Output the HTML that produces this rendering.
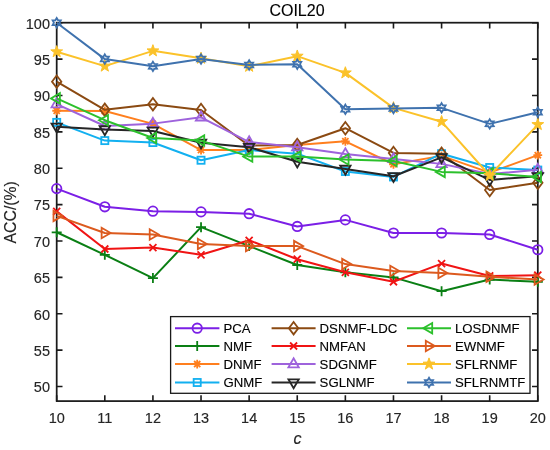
<!DOCTYPE html>
<html><head><meta charset="utf-8"><style>
html,body{margin:0;padding:0;background:#fff;width:550px;height:450px;overflow:hidden}
svg{display:block;will-change:transform}
</style></head><body>
<svg width="550" height="450" viewBox="0 0 550 450">
<rect width="550" height="450" fill="#ffffff"/>
<rect x="56.70" y="22.70" width="481.10" height="378.40" fill="none" stroke="#1a1a1a" stroke-width="1.75"/>
<path d="M56.70 401.10V395.30M56.70 22.70V28.50M104.81 401.10V395.30M104.81 22.70V28.50M152.92 401.10V395.30M152.92 22.70V28.50M201.03 401.10V395.30M201.03 22.70V28.50M249.14 401.10V395.30M249.14 22.70V28.50M297.25 401.10V395.30M297.25 22.70V28.50M345.36 401.10V395.30M345.36 22.70V28.50M393.47 401.10V395.30M393.47 22.70V28.50M441.58 401.10V395.30M441.58 22.70V28.50M489.69 401.10V395.30M489.69 22.70V28.50M537.80 401.10V395.30M537.80 22.70V28.50M56.70 386.55H62.50M537.80 386.55H532.00M56.70 350.16H62.50M537.80 350.16H532.00M56.70 313.78H62.50M537.80 313.78H532.00M56.70 277.39H62.50M537.80 277.39H532.00M56.70 241.01H62.50M537.80 241.01H532.00M56.70 204.62H62.50M537.80 204.62H532.00M56.70 168.24H62.50M537.80 168.24H532.00M56.70 131.85H62.50M537.80 131.85H532.00M56.70 95.47H62.50M537.80 95.47H532.00M56.70 59.08H62.50M537.80 59.08H532.00M56.70 22.70H62.50M537.80 22.70H532.00" stroke="#1a1a1a" stroke-width="1.6" fill="none"/>
<g clip-path="url(#clip)">
<polyline points="56.70,188.61 104.81,206.81 152.92,211.17 201.03,211.90 249.14,213.72 297.25,226.45 345.36,219.90 393.47,233.00 441.58,233.00 489.69,234.46 537.80,249.74" fill="none" stroke="#7b1fe6" stroke-width="2.0" stroke-linejoin="round"/>
<circle cx="56.70" cy="188.61" r="4.7" fill="none" stroke="#7b1fe6" stroke-width="1.8"/>
<circle cx="104.81" cy="206.81" r="4.7" fill="none" stroke="#7b1fe6" stroke-width="1.8"/>
<circle cx="152.92" cy="211.17" r="4.7" fill="none" stroke="#7b1fe6" stroke-width="1.8"/>
<circle cx="201.03" cy="211.90" r="4.7" fill="none" stroke="#7b1fe6" stroke-width="1.8"/>
<circle cx="249.14" cy="213.72" r="4.7" fill="none" stroke="#7b1fe6" stroke-width="1.8"/>
<circle cx="297.25" cy="226.45" r="4.7" fill="none" stroke="#7b1fe6" stroke-width="1.8"/>
<circle cx="345.36" cy="219.90" r="4.7" fill="none" stroke="#7b1fe6" stroke-width="1.8"/>
<circle cx="393.47" cy="233.00" r="4.7" fill="none" stroke="#7b1fe6" stroke-width="1.8"/>
<circle cx="441.58" cy="233.00" r="4.7" fill="none" stroke="#7b1fe6" stroke-width="1.8"/>
<circle cx="489.69" cy="234.46" r="4.7" fill="none" stroke="#7b1fe6" stroke-width="1.8"/>
<circle cx="537.80" cy="249.74" r="4.7" fill="none" stroke="#7b1fe6" stroke-width="1.8"/>
<polyline points="56.70,232.28 104.81,254.83 152.92,278.12 201.03,227.18 249.14,246.10 297.25,265.02 345.36,272.30 393.47,277.39 441.58,291.22 489.69,279.58 537.80,281.76" fill="none" stroke="#0a7f14" stroke-width="2.0" stroke-linejoin="round"/>
<path d="M51.70 232.28H61.70M56.70 227.28V237.28" stroke="#0a7f14" stroke-width="1.8" fill="none"/>
<path d="M99.81 254.83H109.81M104.81 249.83V259.83" stroke="#0a7f14" stroke-width="1.8" fill="none"/>
<path d="M147.92 278.12H157.92M152.92 273.12V283.12" stroke="#0a7f14" stroke-width="1.8" fill="none"/>
<path d="M196.03 227.18H206.03M201.03 222.18V232.18" stroke="#0a7f14" stroke-width="1.8" fill="none"/>
<path d="M244.14 246.10H254.14M249.14 241.10V251.10" stroke="#0a7f14" stroke-width="1.8" fill="none"/>
<path d="M292.25 265.02H302.25M297.25 260.02V270.02" stroke="#0a7f14" stroke-width="1.8" fill="none"/>
<path d="M340.36 272.30H350.36M345.36 267.30V277.30" stroke="#0a7f14" stroke-width="1.8" fill="none"/>
<path d="M388.47 277.39H398.47M393.47 272.39V282.39" stroke="#0a7f14" stroke-width="1.8" fill="none"/>
<path d="M436.58 291.22H446.58M441.58 286.22V296.22" stroke="#0a7f14" stroke-width="1.8" fill="none"/>
<path d="M484.69 279.58H494.69M489.69 274.58V284.58" stroke="#0a7f14" stroke-width="1.8" fill="none"/>
<path d="M532.80 281.76H542.80M537.80 276.76V286.76" stroke="#0a7f14" stroke-width="1.8" fill="none"/>
<polyline points="56.70,110.75 104.81,110.97 152.92,123.85 201.03,150.05 249.14,150.05 297.25,144.95 345.36,141.31 393.47,164.24 441.58,155.87 489.69,172.60 537.80,155.14" fill="none" stroke="#ff7f1e" stroke-width="2.0" stroke-linejoin="round"/>
<path d="M52.30 110.75H61.10M56.70 106.35V115.15M53.59 107.64L59.81 113.86M53.59 113.86L59.81 107.64" stroke="#ff7f1e" stroke-width="1.8" fill="none"/>
<path d="M100.41 110.97H109.21M104.81 106.57V115.37M101.70 107.86L107.92 114.08M101.70 114.08L107.92 107.86" stroke="#ff7f1e" stroke-width="1.8" fill="none"/>
<path d="M148.52 123.85H157.32M152.92 119.45V128.25M149.81 120.74L156.03 126.96M149.81 126.96L156.03 120.74" stroke="#ff7f1e" stroke-width="1.8" fill="none"/>
<path d="M196.63 150.05H205.43M201.03 145.65V154.45M197.92 146.94L204.14 153.16M197.92 153.16L204.14 146.94" stroke="#ff7f1e" stroke-width="1.8" fill="none"/>
<path d="M244.74 150.05H253.54M249.14 145.65V154.45M246.03 146.94L252.25 153.16M246.03 153.16L252.25 146.94" stroke="#ff7f1e" stroke-width="1.8" fill="none"/>
<path d="M292.85 144.95H301.65M297.25 140.55V149.35M294.14 141.84L300.36 148.06M294.14 148.06L300.36 141.84" stroke="#ff7f1e" stroke-width="1.8" fill="none"/>
<path d="M340.96 141.31H349.76M345.36 136.91V145.71M342.25 138.20L348.47 144.42M342.25 144.42L348.47 138.20" stroke="#ff7f1e" stroke-width="1.8" fill="none"/>
<path d="M389.07 164.24H397.87M393.47 159.84V168.64M390.36 161.13L396.58 167.35M390.36 167.35L396.58 161.13" stroke="#ff7f1e" stroke-width="1.8" fill="none"/>
<path d="M437.18 155.87H445.98M441.58 151.47V160.27M438.47 152.76L444.69 158.98M438.47 158.98L444.69 152.76" stroke="#ff7f1e" stroke-width="1.8" fill="none"/>
<path d="M485.29 172.60H494.09M489.69 168.20V177.00M486.58 169.49L492.80 175.72M486.58 175.72L492.80 169.49" stroke="#ff7f1e" stroke-width="1.8" fill="none"/>
<path d="M533.40 155.14H542.20M537.80 150.74V159.54M534.69 152.03L540.91 158.25M534.69 158.25L540.91 152.03" stroke="#ff7f1e" stroke-width="1.8" fill="none"/>
<polyline points="56.70,122.39 104.81,140.59 152.92,142.55 201.03,160.23 249.14,150.05 297.25,153.68 345.36,171.51 393.47,176.97 441.58,153.68 489.69,167.51 537.80,170.06" fill="none" stroke="#12b0f0" stroke-width="2.0" stroke-linejoin="round"/>
<rect x="53.15" y="118.84" width="7.1" height="7.1" fill="none" stroke="#12b0f0" stroke-width="1.8"/>
<rect x="101.26" y="137.04" width="7.1" height="7.1" fill="none" stroke="#12b0f0" stroke-width="1.8"/>
<rect x="149.37" y="139.00" width="7.1" height="7.1" fill="none" stroke="#12b0f0" stroke-width="1.8"/>
<rect x="197.48" y="156.68" width="7.1" height="7.1" fill="none" stroke="#12b0f0" stroke-width="1.8"/>
<rect x="245.59" y="146.50" width="7.1" height="7.1" fill="none" stroke="#12b0f0" stroke-width="1.8"/>
<rect x="293.70" y="150.13" width="7.1" height="7.1" fill="none" stroke="#12b0f0" stroke-width="1.8"/>
<rect x="341.81" y="167.96" width="7.1" height="7.1" fill="none" stroke="#12b0f0" stroke-width="1.8"/>
<rect x="389.92" y="173.42" width="7.1" height="7.1" fill="none" stroke="#12b0f0" stroke-width="1.8"/>
<rect x="438.03" y="150.13" width="7.1" height="7.1" fill="none" stroke="#12b0f0" stroke-width="1.8"/>
<rect x="486.14" y="163.96" width="7.1" height="7.1" fill="none" stroke="#12b0f0" stroke-width="1.8"/>
<rect x="534.25" y="166.51" width="7.1" height="7.1" fill="none" stroke="#12b0f0" stroke-width="1.8"/>
<polyline points="56.70,81.64 104.81,109.80 152.92,104.20 201.03,110.02 249.14,145.68 297.25,144.95 345.36,128.22 393.47,152.96 441.58,153.68 489.69,190.07 537.80,182.79" fill="none" stroke="#8b4a12" stroke-width="2.0" stroke-linejoin="round"/>
<polygon points="56.70,75.44 61.40,81.64 56.70,87.84 52.00,81.64" fill="none" stroke="#8b4a12" stroke-width="1.8" stroke-linejoin="miter"/>
<polygon points="104.81,103.60 109.51,109.80 104.81,116.00 100.11,109.80" fill="none" stroke="#8b4a12" stroke-width="1.8" stroke-linejoin="miter"/>
<polygon points="152.92,98.00 157.62,104.20 152.92,110.40 148.22,104.20" fill="none" stroke="#8b4a12" stroke-width="1.8" stroke-linejoin="miter"/>
<polygon points="201.03,103.82 205.73,110.02 201.03,116.22 196.33,110.02" fill="none" stroke="#8b4a12" stroke-width="1.8" stroke-linejoin="miter"/>
<polygon points="249.14,139.48 253.84,145.68 249.14,151.88 244.44,145.68" fill="none" stroke="#8b4a12" stroke-width="1.8" stroke-linejoin="miter"/>
<polygon points="297.25,138.75 301.95,144.95 297.25,151.15 292.55,144.95" fill="none" stroke="#8b4a12" stroke-width="1.8" stroke-linejoin="miter"/>
<polygon points="345.36,122.02 350.06,128.22 345.36,134.42 340.66,128.22" fill="none" stroke="#8b4a12" stroke-width="1.8" stroke-linejoin="miter"/>
<polygon points="393.47,146.76 398.17,152.96 393.47,159.16 388.77,152.96" fill="none" stroke="#8b4a12" stroke-width="1.8" stroke-linejoin="miter"/>
<polygon points="441.58,147.48 446.28,153.68 441.58,159.88 436.88,153.68" fill="none" stroke="#8b4a12" stroke-width="1.8" stroke-linejoin="miter"/>
<polygon points="489.69,183.87 494.39,190.07 489.69,196.27 484.99,190.07" fill="none" stroke="#8b4a12" stroke-width="1.8" stroke-linejoin="miter"/>
<polygon points="537.80,176.59 542.50,182.79 537.80,188.99 533.10,182.79" fill="none" stroke="#8b4a12" stroke-width="1.8" stroke-linejoin="miter"/>
<polyline points="56.70,211.39 104.81,249.01 152.92,247.56 201.03,254.83 249.14,240.28 297.25,259.20 345.36,272.30 393.47,281.76 441.58,263.57 489.69,275.94 537.80,275.21" fill="none" stroke="#f01414" stroke-width="2.0" stroke-linejoin="round"/>
<path d="M53.20 207.89L60.20 214.89M53.20 214.89L60.20 207.89" stroke="#f01414" stroke-width="1.8" fill="none"/>
<path d="M101.31 245.51L108.31 252.51M101.31 252.51L108.31 245.51" stroke="#f01414" stroke-width="1.8" fill="none"/>
<path d="M149.42 244.06L156.42 251.06M149.42 251.06L156.42 244.06" stroke="#f01414" stroke-width="1.8" fill="none"/>
<path d="M197.53 251.33L204.53 258.33M197.53 258.33L204.53 251.33" stroke="#f01414" stroke-width="1.8" fill="none"/>
<path d="M245.64 236.78L252.64 243.78M245.64 243.78L252.64 236.78" stroke="#f01414" stroke-width="1.8" fill="none"/>
<path d="M293.75 255.70L300.75 262.70M293.75 262.70L300.75 255.70" stroke="#f01414" stroke-width="1.8" fill="none"/>
<path d="M341.86 268.80L348.86 275.80M341.86 275.80L348.86 268.80" stroke="#f01414" stroke-width="1.8" fill="none"/>
<path d="M389.97 278.26L396.97 285.26M389.97 285.26L396.97 278.26" stroke="#f01414" stroke-width="1.8" fill="none"/>
<path d="M438.08 260.07L445.08 267.07M438.08 267.07L445.08 260.07" stroke="#f01414" stroke-width="1.8" fill="none"/>
<path d="M486.19 272.44L493.19 279.44M486.19 279.44L493.19 272.44" stroke="#f01414" stroke-width="1.8" fill="none"/>
<path d="M534.30 271.71L541.30 278.71M534.30 278.71L541.30 271.71" stroke="#f01414" stroke-width="1.8" fill="none"/>
<polyline points="56.70,104.20 104.81,126.03 152.92,123.63 201.03,117.30 249.14,142.04 297.25,147.14 345.36,154.05 393.47,159.00 441.58,163.87 489.69,174.06 537.80,169.69" fill="none" stroke="#9e63dc" stroke-width="2.0" stroke-linejoin="round"/>
<polygon points="56.70,98.40 61.90,107.40 51.50,107.40" fill="none" stroke="#9e63dc" stroke-width="1.8" stroke-linejoin="miter"/>
<polygon points="104.81,120.23 110.01,129.23 99.61,129.23" fill="none" stroke="#9e63dc" stroke-width="1.8" stroke-linejoin="miter"/>
<polygon points="152.92,117.83 158.12,126.83 147.72,126.83" fill="none" stroke="#9e63dc" stroke-width="1.8" stroke-linejoin="miter"/>
<polygon points="201.03,111.50 206.23,120.50 195.83,120.50" fill="none" stroke="#9e63dc" stroke-width="1.8" stroke-linejoin="miter"/>
<polygon points="249.14,136.24 254.34,145.24 243.94,145.24" fill="none" stroke="#9e63dc" stroke-width="1.8" stroke-linejoin="miter"/>
<polygon points="297.25,141.34 302.45,150.34 292.05,150.34" fill="none" stroke="#9e63dc" stroke-width="1.8" stroke-linejoin="miter"/>
<polygon points="345.36,148.25 350.56,157.25 340.16,157.25" fill="none" stroke="#9e63dc" stroke-width="1.8" stroke-linejoin="miter"/>
<polygon points="393.47,153.20 398.67,162.20 388.27,162.20" fill="none" stroke="#9e63dc" stroke-width="1.8" stroke-linejoin="miter"/>
<polygon points="441.58,158.07 446.78,167.07 436.38,167.07" fill="none" stroke="#9e63dc" stroke-width="1.8" stroke-linejoin="miter"/>
<polygon points="489.69,168.26 494.89,177.26 484.49,177.26" fill="none" stroke="#9e63dc" stroke-width="1.8" stroke-linejoin="miter"/>
<polygon points="537.80,163.89 543.00,172.89 532.60,172.89" fill="none" stroke="#9e63dc" stroke-width="1.8" stroke-linejoin="miter"/>
<polyline points="56.70,126.76 104.81,129.45 152.92,130.91 201.03,142.77 249.14,147.14 297.25,161.69 345.36,168.97 393.47,176.24 441.58,157.32 489.69,179.88 537.80,176.24" fill="none" stroke="#262626" stroke-width="2.0" stroke-linejoin="round"/>
<polygon points="56.70,132.56 61.90,123.56 51.50,123.56" fill="none" stroke="#262626" stroke-width="1.8" stroke-linejoin="miter"/>
<polygon points="104.81,135.25 110.01,126.25 99.61,126.25" fill="none" stroke="#262626" stroke-width="1.8" stroke-linejoin="miter"/>
<polygon points="152.92,136.71 158.12,127.71 147.72,127.71" fill="none" stroke="#262626" stroke-width="1.8" stroke-linejoin="miter"/>
<polygon points="201.03,148.57 206.23,139.57 195.83,139.57" fill="none" stroke="#262626" stroke-width="1.8" stroke-linejoin="miter"/>
<polygon points="249.14,152.94 254.34,143.94 243.94,143.94" fill="none" stroke="#262626" stroke-width="1.8" stroke-linejoin="miter"/>
<polygon points="297.25,167.49 302.45,158.49 292.05,158.49" fill="none" stroke="#262626" stroke-width="1.8" stroke-linejoin="miter"/>
<polygon points="345.36,174.77 350.56,165.77 340.16,165.77" fill="none" stroke="#262626" stroke-width="1.8" stroke-linejoin="miter"/>
<polygon points="393.47,182.04 398.67,173.04 388.27,173.04" fill="none" stroke="#262626" stroke-width="1.8" stroke-linejoin="miter"/>
<polygon points="441.58,163.12 446.78,154.12 436.38,154.12" fill="none" stroke="#262626" stroke-width="1.8" stroke-linejoin="miter"/>
<polygon points="489.69,185.68 494.89,176.68 484.49,176.68" fill="none" stroke="#262626" stroke-width="1.8" stroke-linejoin="miter"/>
<polygon points="537.80,182.04 543.00,173.04 532.60,173.04" fill="none" stroke="#262626" stroke-width="1.8" stroke-linejoin="miter"/>
<polyline points="56.70,98.38 104.81,120.21 152.92,137.97 201.03,140.59 249.14,156.60 297.25,156.60 345.36,159.51 393.47,160.96 441.58,171.88 489.69,173.33 537.80,176.97" fill="none" stroke="#2cc02c" stroke-width="2.0" stroke-linejoin="round"/>
<polygon points="50.90,98.38 59.90,103.58 59.90,93.18" fill="none" stroke="#2cc02c" stroke-width="1.8" stroke-linejoin="miter"/>
<polygon points="99.01,120.21 108.01,125.41 108.01,115.01" fill="none" stroke="#2cc02c" stroke-width="1.8" stroke-linejoin="miter"/>
<polygon points="147.12,137.97 156.12,143.17 156.12,132.77" fill="none" stroke="#2cc02c" stroke-width="1.8" stroke-linejoin="miter"/>
<polygon points="195.23,140.59 204.23,145.79 204.23,135.39" fill="none" stroke="#2cc02c" stroke-width="1.8" stroke-linejoin="miter"/>
<polygon points="243.34,156.60 252.34,161.80 252.34,151.40" fill="none" stroke="#2cc02c" stroke-width="1.8" stroke-linejoin="miter"/>
<polygon points="291.45,156.60 300.45,161.80 300.45,151.40" fill="none" stroke="#2cc02c" stroke-width="1.8" stroke-linejoin="miter"/>
<polygon points="339.56,159.51 348.56,164.71 348.56,154.31" fill="none" stroke="#2cc02c" stroke-width="1.8" stroke-linejoin="miter"/>
<polygon points="387.67,160.96 396.67,166.16 396.67,155.76" fill="none" stroke="#2cc02c" stroke-width="1.8" stroke-linejoin="miter"/>
<polygon points="435.78,171.88 444.78,177.08 444.78,166.68" fill="none" stroke="#2cc02c" stroke-width="1.8" stroke-linejoin="miter"/>
<polygon points="483.89,173.33 492.89,178.53 492.89,168.13" fill="none" stroke="#2cc02c" stroke-width="1.8" stroke-linejoin="miter"/>
<polygon points="532.00,176.97 541.00,182.17 541.00,171.77" fill="none" stroke="#2cc02c" stroke-width="1.8" stroke-linejoin="miter"/>
<polyline points="56.70,215.90 104.81,233.00 152.92,234.46 201.03,243.92 249.14,246.10 297.25,246.10 345.36,264.08 393.47,270.99 441.58,273.03 489.69,276.66 537.80,279.58" fill="none" stroke="#dc5a1e" stroke-width="2.0" stroke-linejoin="round"/>
<polygon points="62.50,215.90 53.50,221.10 53.50,210.70" fill="none" stroke="#dc5a1e" stroke-width="1.8" stroke-linejoin="miter"/>
<polygon points="110.61,233.00 101.61,238.20 101.61,227.80" fill="none" stroke="#dc5a1e" stroke-width="1.8" stroke-linejoin="miter"/>
<polygon points="158.72,234.46 149.72,239.66 149.72,229.26" fill="none" stroke="#dc5a1e" stroke-width="1.8" stroke-linejoin="miter"/>
<polygon points="206.83,243.92 197.83,249.12 197.83,238.72" fill="none" stroke="#dc5a1e" stroke-width="1.8" stroke-linejoin="miter"/>
<polygon points="254.94,246.10 245.94,251.30 245.94,240.90" fill="none" stroke="#dc5a1e" stroke-width="1.8" stroke-linejoin="miter"/>
<polygon points="303.05,246.10 294.05,251.30 294.05,240.90" fill="none" stroke="#dc5a1e" stroke-width="1.8" stroke-linejoin="miter"/>
<polygon points="351.16,264.08 342.16,269.28 342.16,258.88" fill="none" stroke="#dc5a1e" stroke-width="1.8" stroke-linejoin="miter"/>
<polygon points="399.27,270.99 390.27,276.19 390.27,265.79" fill="none" stroke="#dc5a1e" stroke-width="1.8" stroke-linejoin="miter"/>
<polygon points="447.38,273.03 438.38,278.23 438.38,267.83" fill="none" stroke="#dc5a1e" stroke-width="1.8" stroke-linejoin="miter"/>
<polygon points="495.49,276.66 486.49,281.86 486.49,271.46" fill="none" stroke="#dc5a1e" stroke-width="1.8" stroke-linejoin="miter"/>
<polygon points="543.60,279.58 534.60,284.78 534.60,274.38" fill="none" stroke="#dc5a1e" stroke-width="1.8" stroke-linejoin="miter"/>
<polyline points="56.70,51.81 104.81,66.14 152.92,50.86 201.03,58.36 249.14,66.36 297.25,56.17 345.36,72.91 393.47,107.84 441.58,121.67 489.69,175.52 537.80,124.58" fill="none" stroke="#fbc22a" stroke-width="2.0" stroke-linejoin="round"/>
<polygon points="56.70,45.61 58.17,49.79 62.60,49.89 59.08,52.58 60.34,56.82 56.70,54.31 53.06,56.82 54.32,52.58 50.80,49.89 55.23,49.79" fill="#fbc22a" stroke="#fbc22a" stroke-width="1" stroke-linejoin="miter"/>
<polygon points="104.81,59.94 106.28,64.12 110.71,64.23 107.19,66.92 108.45,71.16 104.81,68.64 101.17,71.16 102.43,66.92 98.91,64.23 103.34,64.12" fill="#fbc22a" stroke="#fbc22a" stroke-width="1" stroke-linejoin="miter"/>
<polygon points="152.92,44.66 154.39,48.84 158.82,48.95 155.30,51.63 156.56,55.88 152.92,53.36 149.28,55.88 150.54,51.63 147.02,48.95 151.45,48.84" fill="#fbc22a" stroke="#fbc22a" stroke-width="1" stroke-linejoin="miter"/>
<polygon points="201.03,52.16 202.50,56.33 206.93,56.44 203.41,59.13 204.67,63.37 201.03,60.86 197.39,63.37 198.65,59.13 195.13,56.44 199.56,56.33" fill="#fbc22a" stroke="#fbc22a" stroke-width="1" stroke-linejoin="miter"/>
<polygon points="249.14,60.16 250.61,64.34 255.04,64.45 251.52,67.13 252.78,71.38 249.14,68.86 245.50,71.38 246.76,67.13 243.24,64.45 247.67,64.34" fill="#fbc22a" stroke="#fbc22a" stroke-width="1" stroke-linejoin="miter"/>
<polygon points="297.25,49.97 298.72,54.15 303.15,54.26 299.63,56.95 300.89,61.19 297.25,58.67 293.61,61.19 294.87,56.95 291.35,54.26 295.78,54.15" fill="#fbc22a" stroke="#fbc22a" stroke-width="1" stroke-linejoin="miter"/>
<polygon points="345.36,66.71 346.83,70.89 351.26,70.99 347.74,73.68 349.00,77.93 345.36,75.41 341.72,77.93 342.98,73.68 339.46,70.99 343.89,70.89" fill="#fbc22a" stroke="#fbc22a" stroke-width="1" stroke-linejoin="miter"/>
<polygon points="393.47,101.64 394.94,105.82 399.37,105.92 395.85,108.61 397.11,112.86 393.47,110.34 389.83,112.86 391.09,108.61 387.57,105.92 392.00,105.82" fill="#fbc22a" stroke="#fbc22a" stroke-width="1" stroke-linejoin="miter"/>
<polygon points="441.58,115.47 443.05,119.64 447.48,119.75 443.96,122.44 445.22,126.68 441.58,124.17 437.94,126.68 439.20,122.44 435.68,119.75 440.11,119.64" fill="#fbc22a" stroke="#fbc22a" stroke-width="1" stroke-linejoin="miter"/>
<polygon points="489.69,169.32 491.16,173.49 495.59,173.60 492.07,176.29 493.33,180.53 489.69,178.02 486.05,180.53 487.31,176.29 483.79,173.60 488.22,173.49" fill="#fbc22a" stroke="#fbc22a" stroke-width="1" stroke-linejoin="miter"/>
<polygon points="537.80,118.38 539.27,122.55 543.70,122.66 540.18,125.35 541.44,129.59 537.80,127.08 534.16,129.59 535.42,125.35 531.90,122.66 536.33,122.55" fill="#fbc22a" stroke="#fbc22a" stroke-width="1" stroke-linejoin="miter"/>
<polyline points="56.70,22.70 104.81,59.08 152.92,66.36 201.03,59.08 249.14,64.91 297.25,64.18 345.36,109.30 393.47,108.57 441.58,107.84 489.69,123.85 537.80,112.21" fill="none" stroke="#3f72ae" stroke-width="2.0" stroke-linejoin="round"/>
<polygon points="56.70,18.00 58.08,20.32 60.77,20.35 59.45,22.70 60.77,25.05 58.08,25.08 56.70,27.40 55.33,25.08 52.63,25.05 53.95,22.70 52.63,20.35 55.33,20.32" fill="none" stroke="#3f72ae" stroke-width="1.8" stroke-linejoin="miter"/>
<polygon points="104.81,54.38 106.19,56.70 108.88,56.73 107.56,59.08 108.88,61.43 106.19,61.47 104.81,63.78 103.44,61.47 100.74,61.43 102.06,59.08 100.74,56.73 103.44,56.70" fill="none" stroke="#3f72ae" stroke-width="1.8" stroke-linejoin="miter"/>
<polygon points="152.92,61.66 154.30,63.98 156.99,64.01 155.67,66.36 156.99,68.71 154.30,68.74 152.92,71.06 151.55,68.74 148.85,68.71 150.17,66.36 148.85,64.01 151.55,63.98" fill="none" stroke="#3f72ae" stroke-width="1.8" stroke-linejoin="miter"/>
<polygon points="201.03,54.38 202.40,56.70 205.10,56.73 203.78,59.08 205.10,61.43 202.40,61.47 201.03,63.78 199.65,61.47 196.96,61.43 198.28,59.08 196.96,56.73 199.65,56.70" fill="none" stroke="#3f72ae" stroke-width="1.8" stroke-linejoin="miter"/>
<polygon points="249.14,60.21 250.51,62.52 253.21,62.56 251.89,64.91 253.21,67.26 250.51,67.29 249.14,69.61 247.76,67.29 245.07,67.26 246.39,64.91 245.07,62.56 247.76,62.52" fill="none" stroke="#3f72ae" stroke-width="1.8" stroke-linejoin="miter"/>
<polygon points="297.25,59.48 298.62,61.80 301.32,61.83 300.00,64.18 301.32,66.53 298.62,66.56 297.25,68.88 295.88,66.56 293.18,66.53 294.50,64.18 293.18,61.83 295.88,61.80" fill="none" stroke="#3f72ae" stroke-width="1.8" stroke-linejoin="miter"/>
<polygon points="345.36,104.60 346.73,106.91 349.43,106.95 348.11,109.30 349.43,111.65 346.73,111.68 345.36,114.00 343.98,111.68 341.29,111.65 342.61,109.30 341.29,106.95 343.98,106.91" fill="none" stroke="#3f72ae" stroke-width="1.8" stroke-linejoin="miter"/>
<polygon points="393.47,103.87 394.84,106.19 397.54,106.22 396.22,108.57 397.54,110.92 394.84,110.95 393.47,113.27 392.09,110.95 389.40,110.92 390.72,108.57 389.40,106.22 392.09,106.19" fill="none" stroke="#3f72ae" stroke-width="1.8" stroke-linejoin="miter"/>
<polygon points="441.58,103.14 442.95,105.46 445.65,105.49 444.33,107.84 445.65,110.19 442.95,110.22 441.58,112.54 440.20,110.22 437.51,110.19 438.83,107.84 437.51,105.49 440.20,105.46" fill="none" stroke="#3f72ae" stroke-width="1.8" stroke-linejoin="miter"/>
<polygon points="489.69,119.15 491.06,121.47 493.76,121.50 492.44,123.85 493.76,126.20 491.06,126.23 489.69,128.55 488.31,126.23 485.62,126.20 486.94,123.85 485.62,121.50 488.31,121.47" fill="none" stroke="#3f72ae" stroke-width="1.8" stroke-linejoin="miter"/>
<polygon points="537.80,107.51 539.18,109.82 541.87,109.86 540.55,112.21 541.87,114.56 539.18,114.59 537.80,116.91 536.43,114.59 533.73,114.56 535.05,112.21 533.73,109.86 536.43,109.82" fill="none" stroke="#3f72ae" stroke-width="1.8" stroke-linejoin="miter"/>
</g>
<text x="56.70" y="423" font-family="Liberation Sans, sans-serif" stroke="#000" stroke-width="0.2" stroke-opacity="0.6" font-size="14.5" text-anchor="middle" fill="#262626">10</text>
<text x="104.81" y="423" font-family="Liberation Sans, sans-serif" stroke="#000" stroke-width="0.2" stroke-opacity="0.6" font-size="14.5" text-anchor="middle" fill="#262626">11</text>
<text x="152.92" y="423" font-family="Liberation Sans, sans-serif" stroke="#000" stroke-width="0.2" stroke-opacity="0.6" font-size="14.5" text-anchor="middle" fill="#262626">12</text>
<text x="201.03" y="423" font-family="Liberation Sans, sans-serif" stroke="#000" stroke-width="0.2" stroke-opacity="0.6" font-size="14.5" text-anchor="middle" fill="#262626">13</text>
<text x="249.14" y="423" font-family="Liberation Sans, sans-serif" stroke="#000" stroke-width="0.2" stroke-opacity="0.6" font-size="14.5" text-anchor="middle" fill="#262626">14</text>
<text x="297.25" y="423" font-family="Liberation Sans, sans-serif" stroke="#000" stroke-width="0.2" stroke-opacity="0.6" font-size="14.5" text-anchor="middle" fill="#262626">15</text>
<text x="345.36" y="423" font-family="Liberation Sans, sans-serif" stroke="#000" stroke-width="0.2" stroke-opacity="0.6" font-size="14.5" text-anchor="middle" fill="#262626">16</text>
<text x="393.47" y="423" font-family="Liberation Sans, sans-serif" stroke="#000" stroke-width="0.2" stroke-opacity="0.6" font-size="14.5" text-anchor="middle" fill="#262626">17</text>
<text x="441.58" y="423" font-family="Liberation Sans, sans-serif" stroke="#000" stroke-width="0.2" stroke-opacity="0.6" font-size="14.5" text-anchor="middle" fill="#262626">18</text>
<text x="489.69" y="423" font-family="Liberation Sans, sans-serif" stroke="#000" stroke-width="0.2" stroke-opacity="0.6" font-size="14.5" text-anchor="middle" fill="#262626">19</text>
<text x="537.80" y="423" font-family="Liberation Sans, sans-serif" stroke="#000" stroke-width="0.2" stroke-opacity="0.6" font-size="14.5" text-anchor="middle" fill="#262626">20</text>
<text x="50" y="392.35" font-family="Liberation Sans, sans-serif" stroke="#000" stroke-width="0.2" stroke-opacity="0.6" font-size="14.5" text-anchor="end" fill="#262626">50</text>
<text x="50" y="355.96" font-family="Liberation Sans, sans-serif" stroke="#000" stroke-width="0.2" stroke-opacity="0.6" font-size="14.5" text-anchor="end" fill="#262626">55</text>
<text x="50" y="319.58" font-family="Liberation Sans, sans-serif" stroke="#000" stroke-width="0.2" stroke-opacity="0.6" font-size="14.5" text-anchor="end" fill="#262626">60</text>
<text x="50" y="283.19" font-family="Liberation Sans, sans-serif" stroke="#000" stroke-width="0.2" stroke-opacity="0.6" font-size="14.5" text-anchor="end" fill="#262626">65</text>
<text x="50" y="246.81" font-family="Liberation Sans, sans-serif" stroke="#000" stroke-width="0.2" stroke-opacity="0.6" font-size="14.5" text-anchor="end" fill="#262626">70</text>
<text x="50" y="210.42" font-family="Liberation Sans, sans-serif" stroke="#000" stroke-width="0.2" stroke-opacity="0.6" font-size="14.5" text-anchor="end" fill="#262626">75</text>
<text x="50" y="174.04" font-family="Liberation Sans, sans-serif" stroke="#000" stroke-width="0.2" stroke-opacity="0.6" font-size="14.5" text-anchor="end" fill="#262626">80</text>
<text x="50" y="137.65" font-family="Liberation Sans, sans-serif" stroke="#000" stroke-width="0.2" stroke-opacity="0.6" font-size="14.5" text-anchor="end" fill="#262626">85</text>
<text x="50" y="101.27" font-family="Liberation Sans, sans-serif" stroke="#000" stroke-width="0.2" stroke-opacity="0.6" font-size="14.5" text-anchor="end" fill="#262626">90</text>
<text x="50" y="64.88" font-family="Liberation Sans, sans-serif" stroke="#000" stroke-width="0.2" stroke-opacity="0.6" font-size="14.5" text-anchor="end" fill="#262626">95</text>
<text x="50" y="28.50" font-family="Liberation Sans, sans-serif" stroke="#000" stroke-width="0.2" stroke-opacity="0.6" font-size="14.5" text-anchor="end" fill="#262626">100</text>
<text x="297" y="16.2" font-family="Liberation Sans, sans-serif" stroke="#000" stroke-width="0.2" stroke-opacity="0.6" font-size="16" text-anchor="middle" fill="#000">COIL20</text>
<text transform="translate(15.5 212.3) rotate(-90)" x="0" y="0" font-family="Liberation Sans, sans-serif" stroke="#000" stroke-width="0.2" stroke-opacity="0.6" font-size="15.8" text-anchor="middle" fill="#262626">ACC/(%)</text>
<text x="297.5" y="444" font-family="Liberation Sans, sans-serif" stroke="#000" stroke-width="0.2" stroke-opacity="0.6" font-size="16" font-style="italic" text-anchor="middle" fill="#262626">c</text>
<rect x="170.60" y="316.60" width="359.40" height="76.70" fill="#fff" stroke="#1a1a1a" stroke-width="1.3"/>
<path d="M175.00 328.20H219.40" stroke="#7b1fe6" stroke-width="2.0"/>
<circle cx="197.20" cy="328.20" r="4.7" fill="none" stroke="#7b1fe6" stroke-width="1.8"/>
<text x="223.40" y="332.90" font-family="Liberation Sans, sans-serif" stroke="#000" stroke-width="0.2" stroke-opacity="0.6" font-size="13.2" fill="#000">PCA</text>
<path d="M175.00 346.00H219.40" stroke="#0a7f14" stroke-width="2.0"/>
<path d="M192.20 346.00H202.20M197.20 341.00V351.00" stroke="#0a7f14" stroke-width="1.8" fill="none"/>
<text x="223.40" y="350.70" font-family="Liberation Sans, sans-serif" stroke="#000" stroke-width="0.2" stroke-opacity="0.6" font-size="13.2" fill="#000">NMF</text>
<path d="M175.00 364.10H219.40" stroke="#ff7f1e" stroke-width="2.0"/>
<path d="M192.80 364.10H201.60M197.20 359.70V368.50M194.09 360.99L200.31 367.21M194.09 367.21L200.31 360.99" stroke="#ff7f1e" stroke-width="1.8" fill="none"/>
<text x="223.40" y="368.80" font-family="Liberation Sans, sans-serif" stroke="#000" stroke-width="0.2" stroke-opacity="0.6" font-size="13.2" fill="#000">DNMF</text>
<path d="M175.00 382.50H219.40" stroke="#12b0f0" stroke-width="2.0"/>
<rect x="193.65" y="378.95" width="7.1" height="7.1" fill="none" stroke="#12b0f0" stroke-width="1.8"/>
<text x="223.40" y="387.20" font-family="Liberation Sans, sans-serif" stroke="#000" stroke-width="0.2" stroke-opacity="0.6" font-size="13.2" fill="#000">GNMF</text>
<path d="M271.60 328.20H315.60" stroke="#8b4a12" stroke-width="2.0"/>
<polygon points="293.60,322.00 298.30,328.20 293.60,334.40 288.90,328.20" fill="none" stroke="#8b4a12" stroke-width="1.8" stroke-linejoin="miter"/>
<text x="319.60" y="332.90" font-family="Liberation Sans, sans-serif" stroke="#000" stroke-width="0.2" stroke-opacity="0.6" font-size="13.2" fill="#000">DSNMF-LDC</text>
<path d="M271.60 346.00H315.60" stroke="#f01414" stroke-width="2.0"/>
<path d="M290.10 342.50L297.10 349.50M290.10 349.50L297.10 342.50" stroke="#f01414" stroke-width="1.8" fill="none"/>
<text x="319.60" y="350.70" font-family="Liberation Sans, sans-serif" stroke="#000" stroke-width="0.2" stroke-opacity="0.6" font-size="13.2" fill="#000">NMFAN</text>
<path d="M271.60 364.10H315.60" stroke="#9e63dc" stroke-width="2.0"/>
<polygon points="293.60,358.30 298.80,367.30 288.40,367.30" fill="none" stroke="#9e63dc" stroke-width="1.8" stroke-linejoin="miter"/>
<text x="319.60" y="368.80" font-family="Liberation Sans, sans-serif" stroke="#000" stroke-width="0.2" stroke-opacity="0.6" font-size="13.2" fill="#000">SDGNMF</text>
<path d="M271.60 382.50H315.60" stroke="#262626" stroke-width="2.0"/>
<polygon points="293.60,388.30 298.80,379.30 288.40,379.30" fill="none" stroke="#262626" stroke-width="1.8" stroke-linejoin="miter"/>
<text x="319.60" y="387.20" font-family="Liberation Sans, sans-serif" stroke="#000" stroke-width="0.2" stroke-opacity="0.6" font-size="13.2" fill="#000">SGLNMF</text>
<path d="M407.00 328.20H451.00" stroke="#2cc02c" stroke-width="2.0"/>
<polygon points="423.20,328.20 432.20,333.40 432.20,323.00" fill="none" stroke="#2cc02c" stroke-width="1.8" stroke-linejoin="miter"/>
<text x="455.00" y="332.90" font-family="Liberation Sans, sans-serif" stroke="#000" stroke-width="0.2" stroke-opacity="0.6" font-size="13.2" fill="#000">LOSDNMF</text>
<path d="M407.00 346.00H451.00" stroke="#dc5a1e" stroke-width="2.0"/>
<polygon points="434.80,346.00 425.80,351.20 425.80,340.80" fill="none" stroke="#dc5a1e" stroke-width="1.8" stroke-linejoin="miter"/>
<text x="455.00" y="350.70" font-family="Liberation Sans, sans-serif" stroke="#000" stroke-width="0.2" stroke-opacity="0.6" font-size="13.2" fill="#000">EWNMF</text>
<path d="M407.00 364.10H451.00" stroke="#fbc22a" stroke-width="2.0"/>
<polygon points="429.00,357.90 430.47,362.08 434.90,362.18 431.38,364.87 432.64,369.12 429.00,366.60 425.36,369.12 426.62,364.87 423.10,362.18 427.53,362.08" fill="#fbc22a" stroke="#fbc22a" stroke-width="1" stroke-linejoin="miter"/>
<text x="455.00" y="368.80" font-family="Liberation Sans, sans-serif" stroke="#000" stroke-width="0.2" stroke-opacity="0.6" font-size="13.2" fill="#000">SFLRNMF</text>
<path d="M407.00 382.50H451.00" stroke="#3f72ae" stroke-width="2.0"/>
<polygon points="429.00,377.80 430.38,380.12 433.07,380.15 431.75,382.50 433.07,384.85 430.38,384.88 429.00,387.20 427.62,384.88 424.93,384.85 426.25,382.50 424.93,380.15 427.62,380.12" fill="none" stroke="#3f72ae" stroke-width="1.8" stroke-linejoin="miter"/>
<text x="455.00" y="387.20" font-family="Liberation Sans, sans-serif" stroke="#000" stroke-width="0.2" stroke-opacity="0.6" font-size="13.2" fill="#000">SFLRNMTF</text>
<defs><clipPath id="clip"><rect x="0" y="0" width="550" height="450"/></clipPath></defs>
</svg>
</body></html>
